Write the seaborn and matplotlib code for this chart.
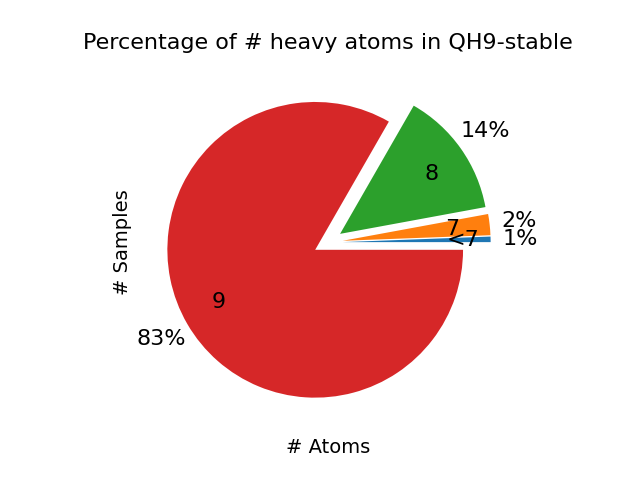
import matplotlib
matplotlib.use("Agg")
import matplotlib.pyplot as plt
import seaborn as sns
import pandas as pd

labels = ["<7", "7", "8", "9"]
percent = [0.6, 2.3, 13.8, 83.3]
colors = sns.color_palette("tab10", 4)

df = pd.DataFrame({"atoms": labels, "share": percent})

fig, ax = plt.subplots(figsize=(6.4, 4.8), dpi=100)
ax.pie(df["share"], labels=df["atoms"], colors=colors, autopct="%1.0f%%",
       explode=[0.1] * len(labels), labeldistance=0.7, pctdistance=1.2,
       textprops={"fontsize": 16})
ax.set_title("Percentage of # heavy atoms in QH9-stable", fontsize=16)
ax.set_xlabel("# Atoms", fontsize=14, labelpad=8)
ax.set_ylabel("# Samples", fontsize=14, labelpad=8)
fig.savefig("out.png", dpi=100)
